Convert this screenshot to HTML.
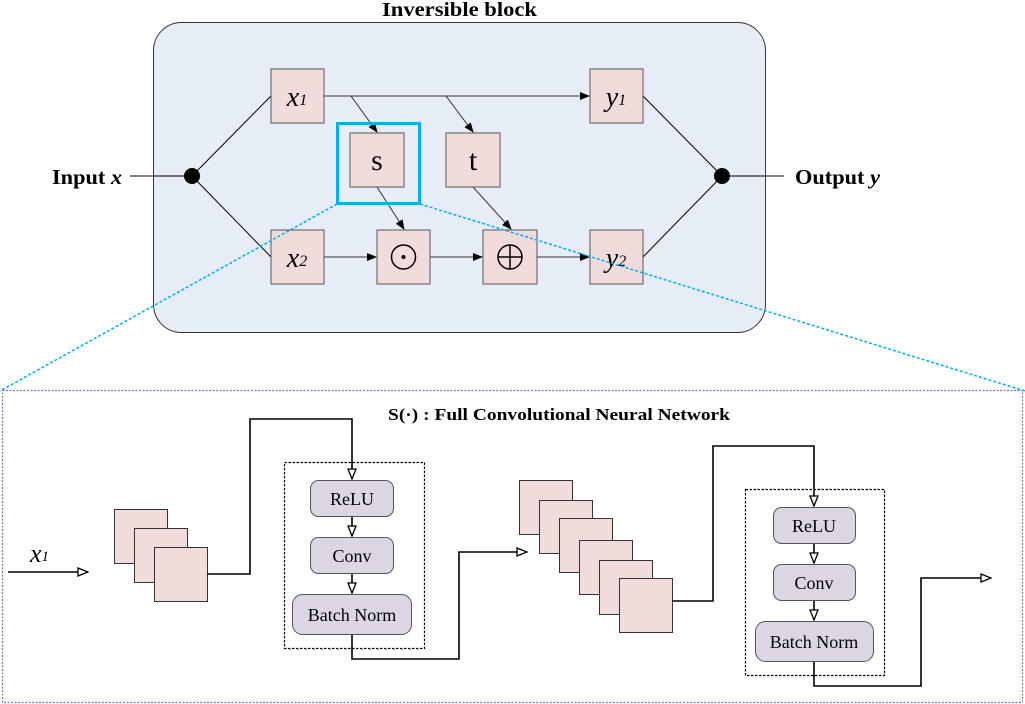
<!DOCTYPE html>
<html><head><meta charset="utf-8"><style>
html,body{margin:0;padding:0;background:#fff;}
svg{display:block;}
text{font-family:"Liberation Serif",serif;}
</style></head><body>
<svg width="1025" height="704" viewBox="0 0 1025 704" xmlns="http://www.w3.org/2000/svg">
<defs>
<marker id="fa" markerWidth="10" markerHeight="8" refX="9" refY="4" orient="auto" markerUnits="userSpaceOnUse">
<path d="M0,0 L10,4 L0,8 Z" fill="#000"/></marker>
<marker id="oa" markerWidth="12" markerHeight="10" refX="11" refY="5" orient="auto" markerUnits="userSpaceOnUse">
<path d="M1,1 L11,5 L1,9 Z" fill="#fff" stroke="#000" stroke-width="1.3"/></marker>
</defs>

<text x="382" y="16" font-size="20" font-weight="bold" textLength="155" lengthAdjust="spacingAndGlyphs">Inversible block</text>
<rect x="153.5" y="22.5" width="612" height="310" rx="28" fill="#e7edf7" stroke="#333" stroke-width="1"/>

<text x="52" y="184" font-size="21" font-weight="bold" textLength="70" lengthAdjust="spacingAndGlyphs">Input <tspan font-style="italic">x</tspan></text>
<line x1="130" y1="176" x2="192" y2="176" stroke="#000"/>
<circle cx="192" cy="176" r="8" fill="#000"/>
<line x1="192" y1="176" x2="271" y2="96" stroke="#000"/>
<line x1="192" y1="176" x2="271" y2="257" stroke="#000"/>
<line x1="722" y1="176" x2="784" y2="176" stroke="#000"/>
<circle cx="722" cy="176" r="8" fill="#000"/>
<line x1="643" y1="96" x2="722" y2="176" stroke="#000"/>
<line x1="643" y1="257" x2="722" y2="176" stroke="#000"/>
<text x="795" y="184" font-size="21" font-weight="bold" textLength="85" lengthAdjust="spacingAndGlyphs">Output <tspan font-style="italic">y</tspan></text>

<g stroke="#333" stroke-width="1" fill="none">
<line x1="324" y1="96" x2="589" y2="96" marker-end="url(#fa)"/>
<line x1="351" y1="96" x2="377" y2="132" marker-end="url(#fa)"/>
<line x1="446" y1="96" x2="473" y2="132" marker-end="url(#fa)"/>
<line x1="377" y1="187" x2="404" y2="229" marker-end="url(#fa)"/>
<line x1="473" y1="187" x2="511" y2="229" marker-end="url(#fa)"/>
<line x1="324" y1="257" x2="376" y2="257" marker-end="url(#fa)"/>
<line x1="430" y1="257" x2="482" y2="257" marker-end="url(#fa)"/>
<line x1="537" y1="257" x2="589" y2="257" marker-end="url(#fa)"/>
</g>

<g fill="#f2dcdb" stroke="#555" stroke-width="1">
<rect x="271" y="69" width="53" height="54"/>
<rect x="590" y="69" width="53" height="54"/>
<rect x="350" y="133" width="54" height="54"/>
<rect x="446" y="133" width="54" height="54"/>
<rect x="271" y="230" width="53" height="54"/>
<rect x="377" y="230" width="53" height="54"/>
<rect x="483" y="230" width="54" height="54"/>
<rect x="590" y="230" width="53" height="54"/>
</g>
<g font-size="28" font-style="italic" text-anchor="middle">
<text x="297" y="106">x<tspan font-size="16" dy="-1">1</tspan></text>
<text x="616" y="106">y<tspan font-size="16" dy="-1">1</tspan></text>
<text x="297" y="267">x<tspan font-size="16" dy="-1">2</tspan></text>
<text x="616" y="267">y<tspan font-size="16" dy="-1">2</tspan></text>
</g>
<text x="377" y="170" font-size="30" text-anchor="middle">s</text>
<text x="473" y="170" font-size="30" text-anchor="middle">t</text>
<circle cx="403.5" cy="257" r="12" fill="none" stroke="#000" stroke-width="1.5"/>
<circle cx="403.5" cy="257" r="2" fill="#000"/>
<circle cx="510" cy="257" r="12" fill="none" stroke="#000" stroke-width="1.5"/>
<line x1="498" y1="257" x2="522" y2="257" stroke="#000" stroke-width="1.5"/>
<line x1="510" y1="245" x2="510" y2="269" stroke="#000" stroke-width="1.5"/>

<rect x="337.5" y="123.5" width="82" height="80" fill="none" stroke="#00aeef" stroke-width="3"/>
<line x1="337" y1="204" x2="0" y2="391" stroke="#00aeef" stroke-width="1.5" stroke-dasharray="3,2"/>
<line x1="420" y1="204" x2="1025" y2="391" stroke="#00aeef" stroke-width="1.5" stroke-dasharray="3,2"/>

<rect x="2.5" y="390.5" width="1020" height="312" fill="none" stroke="#8a6fb5" stroke-width="1.2" stroke-dasharray="2,1.5"/>
<text x="388" y="420" font-size="17" font-weight="bold" textLength="342" lengthAdjust="spacingAndGlyphs">S(·) : Full Convolutional Neural Network</text>

<text x="30" y="562" font-size="26" font-style="italic">x<tspan font-size="15" dy="-1">1</tspan></text>
<line x1="8" y1="572" x2="88" y2="572" stroke="#000" stroke-width="1.5" marker-end="url(#oa)"/>

<g fill="#f2dcdb" stroke="#333" stroke-width="1">
<rect x="114.5" y="509.5" width="53" height="54"/>
<rect x="134.5" y="528.5" width="53" height="54"/>
<rect x="154.5" y="547.5" width="53" height="54"/>
<rect x="519.5" y="480.5" width="53" height="54"/>
<rect x="539.5" y="500.5" width="53" height="53"/>
<rect x="559.5" y="518.5" width="53" height="54"/>
<rect x="579.5" y="540.5" width="53" height="54"/>
<rect x="599.5" y="560.5" width="53" height="54"/>
<rect x="619.5" y="578.5" width="53" height="54"/>
</g>

<g fill="none" stroke="#000" stroke-width="1.6">
<polyline points="207,574 250,574 250,419 352,419 352,479" marker-end="url(#oa)"/>
<polyline points="352,634 352,659 459,659 459,552 527,552" marker-end="url(#oa)"/>
<polyline points="672,601 713,601 713,446 814,446 814,506" marker-end="url(#oa)"/>
<polyline points="814,661 814,686 921,686 921,578 991,578" marker-end="url(#oa)"/>
<line x1="352" y1="516" x2="352" y2="536" marker-end="url(#oa)"/>
<line x1="352" y1="573" x2="352" y2="593" marker-end="url(#oa)"/>
<line x1="814" y1="543" x2="814" y2="563" marker-end="url(#oa)"/>
<line x1="814" y1="600" x2="814" y2="620" marker-end="url(#oa)"/>
</g>

<g fill="none" stroke="#000" stroke-width="1.2" stroke-dasharray="2.5,1.5">
<rect x="284.5" y="462.5" width="140" height="186"/>
<rect x="745.5" y="489.5" width="139" height="186"/>
</g>

<g fill="#dcd6e4" stroke="#555" stroke-width="1">
<rect x="310.5" y="480.5" width="83" height="36" rx="8"/>
<rect x="310.5" y="537.5" width="83" height="36" rx="8"/>
<rect x="292.5" y="594.5" width="119" height="40" rx="10"/>
<rect x="773.5" y="507.5" width="82" height="36" rx="8"/>
<rect x="773.5" y="564.5" width="82" height="36" rx="8"/>
<rect x="755.5" y="621.5" width="118" height="40" rx="10"/>
</g>
<g font-size="18" text-anchor="middle">
<text x="352" y="505">ReLU</text>
<text x="352" y="562">Conv</text>
<text x="352" y="621">Batch Norm</text>
<text x="814" y="532">ReLU</text>
<text x="814" y="589">Conv</text>
<text x="814" y="648">Batch Norm</text>
</g>
</svg>
</body></html>
